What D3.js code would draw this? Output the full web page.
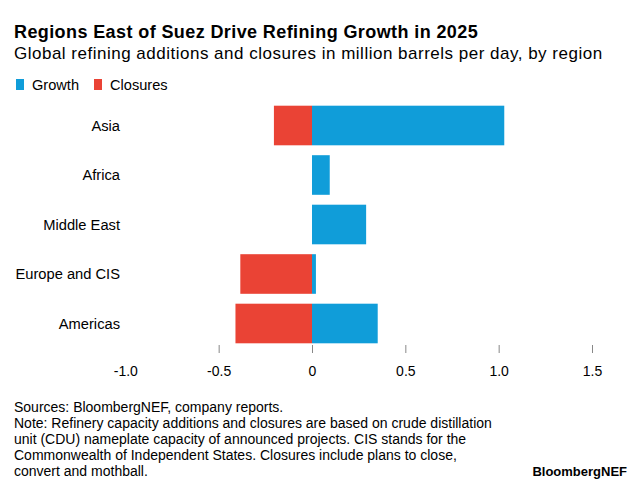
<!DOCTYPE html>
<html lang="en">
<head>
    <meta charset="UTF-8">
    <title>Refining growth</title>
    <script src="https://d3js.org/d3.v7.min.js"></script>
    <style>
        body { margin: 0; background: #fff; }
        svg { display: block; font-family: "Liberation Sans", Arial, sans-serif; }
    </style>
</head>
<body>
    <div id="chart"></div>
    <script>
        // data
        const regions = ["Asia", "Africa", "Middle East", "Europe and CIS", "Americas"];
        const growth = [1.03, 0.095, 0.29, 0.021, 0.352];
        const closures = [-0.204, 0, 0, -0.384, -0.41];
        const tickValues = [-1.0, -0.5, 0, 0.5, 1.0, 1.5];
        const tickLabels = ["-1.0", "-0.5", "0", "0.5", "1.0", "1.5"];

        const width = 640, height = 497;
        const blue = "#109dd9", red = "#ea4335";

        const svg = d3.select("#chart").append("svg")
            .attr("width", width)
            .attr("height", height);

        // header
        svg.append("text")
            .attr("x", 14).attr("y", 38)
            .attr("font-size", 18).attr("font-weight", "bold")
            .attr("letter-spacing", 0.4)
            .attr("fill", "#000")
            .text("Regions East of Suez Drive Refining Growth in 2025");
        svg.append("text")
            .attr("x", 14).attr("y", 58.5)
            .attr("font-size", 17)
            .attr("letter-spacing", 0.5)
            .attr("fill", "#000")
            .text("Global refining additions and closures in million barrels per day, by region");

        // legend
        const legend = svg.append("g").attr("transform", "translate(16,79)");
        [["Growth", blue], ["Closures", red]].forEach((d, i) => {
            const g = legend.append("g").attr("transform", `translate(${i * 78},0)`);
            g.append("rect").attr("width", 8).attr("height", 11).attr("fill", d[1]);
            g.append("text").attr("x", 16).attr("y", 11)
                .attr("font-size", 14.6).attr("fill", "#000").text(d[0]);
        });

        const x = d3.scaleLinear().domain([0, 1.5]).range([312, 592]);
        const y = d3.scaleBand().domain(regions).range([95.8, 353.2]).padding(0.2);

        // bars
        svg.selectAll(".closure")
            .data(regions)
            .enter().append("rect")
            .attr("class", "closure")
            .attr("x", (d, i) => x(closures[i]))
            .attr("y", d => y(d))
            .attr("width", (d, i) => x(0) - x(closures[i]))
            .attr("height", y.bandwidth())
            .attr("fill", red);
        svg.selectAll(".growth")
            .data(regions)
            .enter().append("rect")
            .attr("class", "growth")
            .attr("x", x(0))
            .attr("y", d => y(d))
            .attr("width", (d, i) => x(growth[i]) - x(0))
            .attr("height", y.bandwidth())
            .attr("fill", blue);

        // category labels
        svg.selectAll(".cat")
            .data(regions)
            .enter().append("text")
            .attr("class", "cat")
            .attr("x", 120)
            .attr("y", d => y(d) + y.bandwidth() / 2 + 5)
            .attr("text-anchor", "end")
            .attr("font-size", 14.7)
            .attr("fill", "#000")
            .text(d => d);

        // x axis
        const axis = svg.append("g").attr("transform", "translate(0,345)")
            .call(d3.axisBottom(x).tickValues(tickValues)
                .tickFormat((d, i) => tickLabels[i]).tickSize(8).tickPadding(13));
        axis.select(".domain").remove();
        axis.selectAll(".tick line").attr("stroke", "#888")
            .filter(d => d === -1.0).remove();
        axis.selectAll(".tick text")
            .attr("font-size", 14).attr("fill", "#000")
            .attr("font-family", "Liberation Sans, Arial, sans-serif");

        // footer
        const notes = [
            "Sources: BloombergNEF, company reports.",
            "Note: Refinery capacity additions and closures are based on crude distillation",
            "unit (CDU) nameplate capacity of announced projects. CIS stands for the",
            "Commonwealth of Independent States. Closures include plans to close,",
            "convert and mothball."
        ];
        svg.selectAll(".note")
            .data(notes)
            .enter().append("text")
            .attr("class", "note")
            .attr("x", 14)
            .attr("y", (d, i) => 412 + i * 16)
            .attr("font-size", 14)
            .attr("fill", "#000")
            .text(d => d);
        svg.append("text")
            .attr("x", 627).attr("y", 476)
            .attr("text-anchor", "end")
            .attr("font-size", 13).attr("font-weight", "bold")
            .attr("fill", "#000")
            .text("BloombergNEF");
    </script>
</body>
</html>
